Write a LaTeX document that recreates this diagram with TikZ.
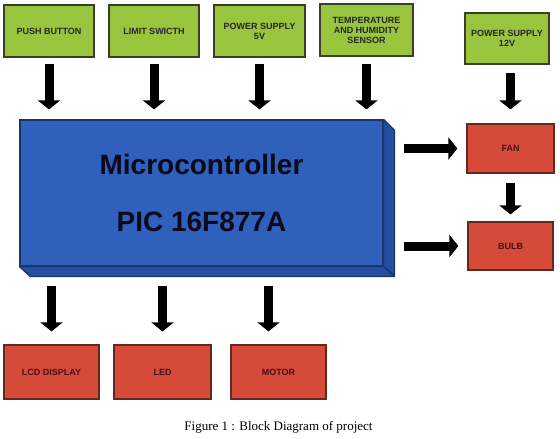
\documentclass[tikz,border=0pt]{standalone}
\usepackage{fontspec}
\setmainfont{Liberation Sans}
\newfontfamily\capfont{Liberation Serif}
\usetikzlibrary{arrows.meta}
\definecolor{boxgreen}{RGB}{153,196,62}
\definecolor{greenline}{RGB}{60,62,40}
\definecolor{boxred}{RGB}{214,74,58}
\definecolor{redline}{RGB}{100,40,30}
\definecolor{redtext}{RGB}{70,20,16}
\definecolor{mcublue}{RGB}{46,96,188}
\definecolor{mcuside}{RGB}{36,78,160}
\definecolor{mculine}{RGB}{26,52,110}
\definecolor{mcutext}{RGB}{10,10,28}

\begin{document}
\begin{tikzpicture}[x=1pt,y=-1pt,
  every node/.style={font=\bfseries\fontsize{9}{10}\selectfont, align=center, inner sep=0pt, text=black!85},
  inbox/.style={draw=greenline, line width=1.2pt, fill=boxgreen, minimum width=90pt, minimum height=52pt},
  outbox/.style={draw=redline, line width=1.2pt, fill=boxred, text=redtext, minimum width=95pt, minimum height=54pt},
  blk/.style={line width=9pt, -{Triangle[width=22pt,length=9pt]}}]
\useasboundingbox (0,0) rectangle (560,439);

\node[inbox] (push) at (49,31) {PUSH BUTTON};
\node[inbox] (limit) at (154,31) {LIMIT SWICTH};
\node[inbox, minimum width=91pt] (pow5) at (259.5,31) {POWER SUPPLY\\5V};
\node[inbox, minimum width=93pt] (temp) at (366.5,30) {TEMPERATURE\\AND HUMIDITY\\SENSOR};
\node[inbox, minimum width=84pt, minimum height=51pt] (pow12) at (507,38.5) {POWER SUPPLY\\12V};

\node[draw=mculine, line width=1.2pt, fill=mcublue, minimum width=363pt, minimum height=146pt,
  font=\bfseries\fontsize{28}{57}\selectfont, text=mcutext] (mcu) at (201.5,193) {Microcontroller\\PIC 16F877A};
\filldraw[draw=mculine, fill=mcuside, line width=1.2pt, line join=round] (mcu.north east) -- ++(11,11) -- ++(0,145) -- (mcu.south east) -- cycle;
\filldraw[draw=mculine, fill=mcuside, line width=1.2pt, line join=round] (mcu.south west) -- (mcu.south east) -- ++(11,10) -- ([shift={(11,10)}]mcu.south west) -- cycle;

\node[outbox, minimum width=87pt, minimum height=49pt] (fan) at (510.5,148.5) {FAN};
\node[outbox, minimum width=85pt, minimum height=48pt] (bulb) at (510.5,246) {BULB};
\node[outbox] (lcd) at (51.5,372) {LCD DISPLAY};
\node[outbox, minimum width=97pt] (led) at (162.5,372) {LED};
\node[outbox] (motor) at (278.5,372) {MOTOR};

\node[font=\capfont\fontsize{13}{15}\selectfont, text=black] (cap) at (278.5,427) {Figure 1 : Block Diagram of project};

\draw[blk, shorten <=6pt, shorten >=10pt] (push) -- (push |- mcu.north);
\draw[blk, shorten <=6pt, shorten >=10pt] (limit) -- (limit |- mcu.north);
\draw[blk, shorten <=6pt, shorten >=10pt] (pow5) -- (pow5 |- mcu.north);
\draw[blk, shorten <=7pt, shorten >=10pt] (temp) -- (temp |- mcu.north);
\draw[blk, shorten <=8pt, shorten >=14pt] (fan.north |- pow12.south) -- (fan);
\draw[blk, shorten <=9pt, shorten >=7pt] (fan) -- (bulb);

\draw[blk, shorten <=20pt, shorten >=9pt] (mcu.east |- fan) -- (fan);
\draw[blk, shorten <=20pt, shorten >=9pt] (mcu.east |- bulb) -- (bulb);

\draw[blk, shorten <=19pt, shorten >=13pt] (lcd |- mcu.south) -- (lcd);
\draw[blk, shorten <=19pt, shorten >=13pt] (led |- mcu.south) -- (led);
\draw[blk, shorten <=19pt, shorten >=13pt] ([xshift=-10pt]motor.north |- mcu.south) -- ([xshift=-10pt]motor.north);

\end{tikzpicture}
\end{document}
